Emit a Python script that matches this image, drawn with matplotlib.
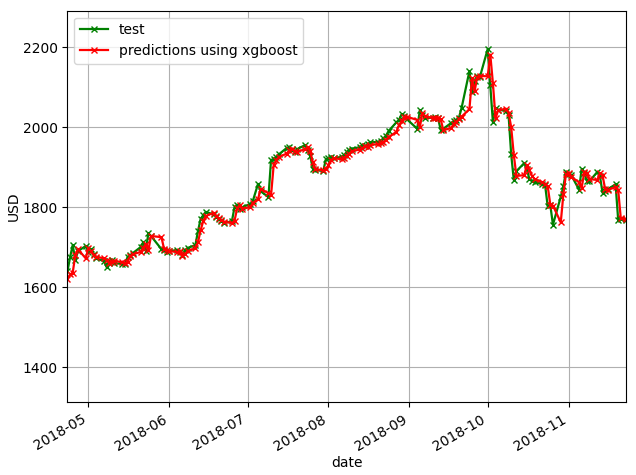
import pandas as pd
import matplotlib
matplotlib.use("Agg")
from matplotlib import pyplot as plt
import matplotlib.dates as mdates

# trading days shown in the chart (US market calendar)
holidays = ["2018-05-28", "2018-07-04", "2018-09-03", "2018-11-22"]
dates = pd.bdate_range("2018-04-23", "2018-11-23", freq="C", holidays=holidays)

# actual closing price (test set), one line per month
test = [1640, 1675, 1705, 1668, 1690, 1703,
        1688, 1695, 1682, 1672, 1665, 1650, 1666, 1668, 1660, 1658, 1657, 1675, 1680, 1685,
        1700, 1712, 1690, 1735, 1728, 1695, 1692, 1688,
        1690, 1693, 1688, 1680, 1692, 1698, 1705, 1740, 1770, 1780, 1788, 1782, 1776, 1770,
        1765, 1760, 1765, 1800, 1806, 1795, 1800,
        1808, 1815, 1858, 1840, 1825, 1918, 1920, 1926, 1932, 1948, 1950, 1944, 1938, 1945,
        1955, 1944, 1928, 1896, 1893, 1890, 1920,
        1922, 1925, 1922, 1926, 1930, 1938, 1944, 1946, 1950, 1955, 1952, 1958, 1962, 1963,
        1966, 1972, 1978, 1990, 2012, 2018, 2032, 2028, 2020,
        1996, 2042, 2030, 2022, 2024, 2025, 2022, 1993, 1996, 2010, 2015, 2018, 2024, 2048,
        2140, 2088, 2115, 2128, 2125,
        2195, 2105, 2012, 2048, 2044, 2040, 2030, 1932, 1868, 1890, 1910, 1895, 1870, 1866,
        1862, 1858, 1855, 1802, 1805, 1756, 1826, 1852, 1889,
        1882, 1880, 1844, 1895, 1885, 1866, 1865, 1888, 1878, 1836, 1840, 1845, 1857, 1768,
        1770, 1768]

# xgboost predictions
pred = [1620, 1632, 1636, 1680, 1695, 1672,
        1698, 1690, 1680, 1676, 1672, 1668, 1660, 1664, 1666, 1662, 1660, 1664, 1678, 1682,
        1688, 1698, 1708, 1692, 1728, 1725, 1696, 1692,
        1690, 1688, 1690, 1678, 1682, 1690, 1697, 1712, 1742, 1765, 1778, 1786, 1778, 1772,
        1768, 1764, 1760, 1766, 1797, 1805, 1796,
        1800, 1810, 1820, 1845, 1835, 1830, 1905, 1918, 1925, 1934, 1942, 1946, 1940, 1938,
        1945, 1950, 1940, 1912, 1895, 1892, 1895,
        1905, 1918, 1922, 1920, 1924, 1928, 1934, 1940, 1944, 1948, 1952, 1950, 1955, 1958,
        1960, 1962, 1968, 1975, 1988, 2005, 2015, 2025, 2026,
        2018, 2000, 2035, 2028, 2022, 2024, 2023, 2020, 1992, 1998, 2008, 2014, 2020, 2026,
        2045, 2122, 2090, 2126, 2128,
        2127, 2181, 2110, 2022, 2042, 2046, 2036, 2000, 1931, 1878, 1880, 1905, 1892, 1878,
        1870, 1862, 1858, 1852, 1806, 1804, 1762, 1832, 1883,
        1885, 1876, 1862, 1848, 1887, 1885, 1870, 1868, 1885, 1880, 1845, 1843, 1850, 1843,
        1772, 1770]

fig = plt.figure(figsize=(6.36, 4.75), dpi=100)
ax = fig.add_axes([0.1061, 0.1528, 0.8782, 0.8247])

ax.plot(dates, test, "x-", color="g", lw=1.6, ms=5, label="test")
ax.plot(dates, pred, "x-", color="r", lw=1.6, ms=5, label="predictions using xgboost")

ax.set_xlim(dates[0], dates[-1])
ax.set_ylim(1312, 2291)
ax.set_yticks([1400, 1600, 1800, 2000, 2200])
ax.xaxis.set_major_locator(mdates.MonthLocator())
ax.xaxis.set_major_formatter(mdates.DateFormatter("%Y-%m"))
for lbl in ax.get_xticklabels():
    lbl.set_rotation(30)
    lbl.set_ha("right")
ax.tick_params(labelsize=10)
ax.grid(True)
ax.set_xlabel("date", fontsize=10, labelpad=2)
ax.set_ylabel("USD", fontsize=10, labelpad=1)
ax.legend(loc="upper left", fontsize=10)

fig.savefig("out.png", dpi=100)
